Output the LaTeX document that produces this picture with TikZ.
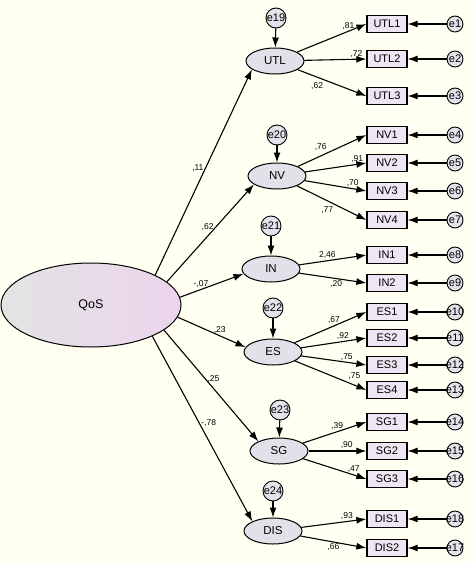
\documentclass[tikz,border=0pt]{standalone}
\usepackage{fontspec}
\setmainfont{Liberation Sans}
\usetikzlibrary{shapes.geometric, arrows.meta}
\definecolor{paper}{RGB}{255,255,242}
\definecolor{qosleft}{RGB}{226,228,228}
\definecolor{qosright}{RGB}{236,212,236}
\definecolor{latfill}{RGB}{226,224,232}
\definecolor{itemfill}{RGB}{238,230,242}
\definecolor{errfill}{RGB}{230,226,236}

\begin{document}
\begin{tikzpicture}[
  x=1pt, y=-1pt,
  construct/.style={ellipse, draw, line width=1pt, left color=qosleft, right color=qosright, minimum width=180pt, minimum height=84pt, font=\fontsize{12.5}{14}\selectfont},
  factor/.style={ellipse, draw, line width=1pt, fill=latfill, minimum width=58pt, minimum height=26pt, inner sep=0pt, font=\fontsize{11.5}{13}\selectfont},
  item/.style={rectangle, draw, line width=1.3pt, fill=itemfill, minimum width=40pt, minimum height=17pt, inner sep=0pt, font=\fontsize{11}{12}\selectfont},
  disturb/.style={circle, draw, line width=0.9pt, fill=errfill, minimum size=20pt, inner sep=0pt, font=\fontsize{11}{12}\selectfont, execute at begin node=\hbox to 0pt\bgroup\hss, execute at end node=\hss\egroup},
  residual/.style={circle, draw, line width=0.9pt, fill=errfill, minimum size=16pt, inner sep=0pt, font=\fontsize{11}{12}\selectfont, execute at begin node=\hbox to 0pt\bgroup\hss, execute at end node=\hss\egroup},
  flow/.style={-{Latex[length=10pt, width=7pt]}, line width=1.1pt},
  coef/.style={font=\fontsize{8.5}{9}\selectfont, inner sep=1.5pt}
]
\fill [paper] (0,0) rectangle (474,562);
\useasboundingbox (0,0) rectangle (474,562);

\node (QoS) [construct] at (91,305) {QoS};

\node (UTL) [factor] at (275,61)  {UTL};
\node (NV)  [factor] at (277,176) {NV};
\node (IN)  [factor] at (271,269) {IN};
\node (ES)  [factor] at (273,352) {ES};
\node (SG)  [factor] at (279,451) {SG};
\node (DIS) [factor] at (273,531) {DIS};

\node (e19) [disturb] at (276,18)  {e19};
\node (e20) [disturb] at (277,135) {e20};
\node (e21) [disturb] at (271,226) {e21};
\node (e22) [disturb] at (273,308) {e22};
\node (e23) [disturb] at (280,410) {e23};
\node (e24) [disturb] at (273,491) {e24};

\node (UTL1) [item] at (387,24)  {UTL1};
\node (UTL2) [item] at (387,59)  {UTL2};
\node (UTL3) [item] at (387,96)  {UTL3};
\node (NV1)  [item] at (387,135) {NV1};
\node (NV2)  [item] at (387,163) {NV2};
\node (NV3)  [item] at (387,191) {NV3};
\node (NV4)  [item] at (387,220) {NV4};
\node (IN1)  [item] at (387,255) {IN1};
\node (IN2)  [item] at (387,283) {IN2};
\node (ES1)  [item] at (387,312) {ES1};
\node (ES2)  [item] at (387,338) {ES2};
\node (ES3)  [item] at (387,365) {ES3};
\node (ES4)  [item] at (387,390) {ES4};
\node (SG1)  [item] at (387,422) {SG1};
\node (SG2)  [item] at (387,451) {SG2};
\node (SG3)  [item] at (387,479) {SG3};
\node (DIS1) [item] at (387,519) {DIS1};
\node (DIS2) [item] at (387,548) {DIS2};

\node (e1)  [residual] at (455,24)  {e1};
\node (e2)  [residual] at (455,59)  {e2};
\node (e3)  [residual] at (455,96)  {e3};
\node (e4)  [residual] at (455,135) {e4};
\node (e5)  [residual] at (455,163) {e5};
\node (e6)  [residual] at (455,191) {e6};
\node (e7)  [residual] at (455,220) {e7};
\node (e8)  [residual] at (455,255) {e8};
\node (e9)  [residual] at (455,283) {e9};
\node (e10) [residual] at (455,312) {e10};
\node (e11) [residual] at (455,338) {e11};
\node (e12) [residual] at (455,365) {e12};
\node (e13) [residual] at (455,390) {e13};
\node (e14) [residual] at (455,422) {e14};
\node (e15) [residual] at (455,451) {e15};
\node (e16) [residual] at (455,479) {e16};
\node (e18) [residual] at (455,519) {e18};
\node (e17) [residual] at (455,548) {e17};

\draw [flow] (QoS.25)  -- node[coef, pos=0.52, left]{,11}   (UTL.200);
\draw [flow] (QoS.17)  -- node[coef, pos=0.56, left]{,62}   (NV.200);
\draw [flow] (QoS.5)   -- node[coef, pos=0.33, above]{-,07} (IN.190);
\draw [flow] (QoS.-8)  -- node[coef, pos=0.62, above]{,23}  (ES.170);
\draw [flow] (QoS.-19) -- node[coef, pos=0.44, right]{,25}  (SG.155);
\draw [flow] (QoS.-27) -- node[coef, pos=0.47, right]{-,78} (DIS.155);

\draw [flow] (e19) -- (UTL);
\draw [flow] (e20) -- (NV);
\draw [flow] (e21) -- (IN);
\draw [flow] (e22) -- (ES);
\draw [flow] (e23) -- (SG);
\draw [flow] (e24) -- (DIS);

\draw [flow] (UTL) -- node[coef, pos=0.74, above]{,81}      (UTL1.west);
\draw [flow] (UTL) -- node[coef, pos=0.84, above]{,72}      (UTL2.west);
\draw [flow] (UTL) -- node[coef, pos=0.40, below left]{,62} (UTL3.west);
\draw [flow] (NV)  -- node[coef, pos=0.45, above left]{,76} (NV1.west);
\draw [flow] (NV)  -- node[coef, pos=0.85, above]{,91}      (NV2.west);
\draw [flow] (NV)  -- node[coef, pos=0.78, above]{,70}      (NV3.west);
\draw [flow] (NV)  -- node[coef, pos=0.55, below left]{,77} (NV4.west);
\draw [flow] (IN)  -- node[coef, pos=0.42, above]{2,46}     (IN1.west);
\draw [flow] (IN)  -- node[coef, pos=0.55, below]{,20}      (IN2.west);
\draw [flow] (ES)  -- node[coef, pos=0.55, above]{,67}      (ES1.west);
\draw [flow] (ES)  -- node[coef, pos=0.64, above]{,92}      (ES2.west);
\draw [flow] (ES)  -- node[coef, pos=0.70, above]{,75}      (ES3.west);
\draw [flow] (ES)  -- node[coef, pos=0.72, above right]{,75} (ES4.west);
\draw [flow] (SG)  -- node[coef, pos=0.54, above]{,39}      (SG1.west);
\draw [flow] (SG)  -- node[coef, pos=0.66, above]{,90}      (SG2.west);
\draw [flow] (SG)  -- node[coef, pos=0.80, above]{,47}      (SG3.west);
\draw [flow] (DIS) -- node[coef, pos=0.70, above]{,93}      (DIS1.west);
\draw [flow] (DIS) -- node[coef, pos=0.50, below]{,66}      (DIS2.west);

\draw [flow] (e1)  -- (UTL1);
\draw [flow] (e2)  -- (UTL2);
\draw [flow] (e3)  -- (UTL3);
\draw [flow] (e4)  -- (NV1);
\draw [flow] (e5)  -- (NV2);
\draw [flow] (e6)  -- (NV3);
\draw [flow] (e7)  -- (NV4);
\draw [flow] (e8)  -- (IN1);
\draw [flow] (e9)  -- (IN2);
\draw [flow] (e10) -- (ES1);
\draw [flow] (e11) -- (ES2);
\draw [flow] (e12) -- (ES3);
\draw [flow] (e13) -- (ES4);
\draw [flow] (e14) -- (SG1);
\draw [flow] (e15) -- (SG2);
\draw [flow] (e16) -- (SG3);
\draw [flow] (e18) -- (DIS1);
\draw [flow] (e17) -- (DIS2);
\end{tikzpicture}
\end{document}
